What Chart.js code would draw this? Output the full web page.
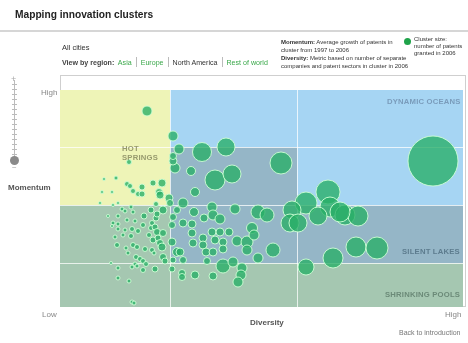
<!DOCTYPE html>
<html lang="en">
  <head>
    <meta charset="UTF-8" />
    <title>Mapping innovation clusters</title>
    <script src="https://cdn.jsdelivr.net/npm/chart.js@4.4.1/dist/chart.umd.min.js"></script>
    <style>
      body { margin: 0; background: #fff; font-family: "Liberation Sans", Arial, sans-serif; }
      .wrap { position: relative; width: 468px; height: 343px; overflow: hidden; }
      .wrap canvas { position: absolute; left: 0; top: 0; }
      .t { position: absolute; white-space: nowrap; line-height: 1; }
      .title { left: 15px; top: 10px; font-size: 10.2px; font-weight: bold; color: #222; }
      .rule { position: absolute; left: 0; top: 30px; width: 468px; height: 2px; background: #d6d6d6; }
      .green { color: #3aa84a; }
      .nav { font-size: 7.1px; color: #333; }
      .nav b { color: #444; }
      .sep { display: inline-block; width: 1px; height: 10px; background: #bbb; vertical-align: -2px; margin: 0 4px; }
      .note { font-size: 6px; color: #333; line-height: 8px; }
      .axl { font-size: 8px; color: #888; }
      .axt { font-size: 8px; color: #555; font-weight: bold; }
      .zone { font-size: 7.7px; font-weight: bold; letter-spacing: 0.2px; }
      .slider { position: absolute; left: 14px; top: 80px; width: 1px; height: 80px; background: #bbb; }
      .tick { position: absolute; left: 12px; width: 5px; height: 1px; background: #bbb; }
    </style>
  </head>
  <body>
    <div class="wrap" id="wrap">
      <canvas id="chart" width="468" height="343"></canvas>

      <div class="t title">Mapping innovation clusters</div>
      <div class="rule"></div>

      <div class="t nav green" style="left: 62px; top: 44px; font-size: 7.5px">All cities</div>
      <div class="t nav" style="left: 62px; top: 57px">
        <b>View by region:</b>&nbsp; <span class="green">Asia</span><span class="sep"></span><span class="green">Europe</span><span class="sep"></span>North America<span class="sep"></span><span class="green">Rest of world</span>
      </div>

      <div class="t note" style="left: 281px; top: 38px">
        <b>Momentum:</b> Average growth of patents in<br />cluster from 1997 to 2006
      </div>
      <div class="t note" style="left: 281px; top: 54px">
        <b>Diversity:</b> Metric based on number of separate<br />companies and patent sectors in cluster in 2006
      </div>
      <div style="position: absolute; left: 404px; top: 38px; width: 7px; height: 7px; border-radius: 50%; background: #1fa34a"></div>
      <div class="t note" style="left: 414px; top: 36px; line-height: 7px">Cluster size:<br />number of patents<br />granted in 2006</div>

      <div class="t" style="left: 11px; top: 75px; font-size: 9px; color: #aaa">+</div>
      <div class="slider"></div>
      <div id="ticks"></div>
      <div style="position: absolute; left: 10px; top: 156px; width: 9px; height: 9px; border-radius: 50%; background: #8a8a8a"></div>
      <div class="t" style="left: 12px; top: 164px; font-size: 8px; color: #aaa">&minus;</div>

      <div class="t axl" style="left: 41px; top: 89px">High</div>
      <div class="t axl" style="left: 42px; top: 311px">Low</div>
      <div class="t axl" style="left: 445px; top: 311px">High</div>
      <div class="t axt" style="left: 8px; top: 184px">Momentum</div>
      <div class="t axt" style="left: 250px; top: 319px">Diversity</div>
      <div class="t" style="left: 399px; top: 329px; font-size: 7px; color: #777">Back to introduction</div>

      <div class="t zone" style="left: 122px; top: 144px; color: #979a6e; line-height: 9px">HOT<br />SPRINGS</div>
      <div class="t zone" style="left: 387px; top: 98px; color: #7a9cbb">DYNAMIC OCEANS</div>
      <div class="t zone" style="left: 402px; top: 248px; color: #5d7c8e">SILENT LAKES</div>
      <div class="t zone" style="left: 385px; top: 291px; color: #6b8a78">SHRINKING POOLS</div>
    </div>

    <script>
      // zoom slider ticks
      var ticksBox = document.getElementById("ticks");
      for (var i = 0; i < 15; i++) {
        var tk = document.createElement("div");
        tk.className = "tick";
        tk.style.top = 84 + i * 5 + "px";
        ticksBox.appendChild(tk);
      }

      // cluster data (diversity / momentum in chart units, size = bubble radius)
      const diversity = [
        373, 87, 113, 119, 142, 166, 221, 155, 172, 115, 113, 113, 131, 135,
        69, 102, 93, 44, 56, 67, 70, 73, 82, 78, 82, 42, 52, 99, 100, 109,
        40, 58, 53, 96, 110, 123, 152, 153, 134, 117, 144, 160, 175, 198,
        207, 123, 132, 112, 113, 132, 143, 152, 160, 169, 155, 163, 177, 187,
        192, 194, 213, 187, 198, 117, 133, 143, 146, 153, 163, 147, 113, 123,
        163, 173, 182, 181, 178, 153, 135, 122, 122, 268, 246, 232, 230, 238,
        270, 258, 285, 298, 280, 296, 317, 273, 246, 62, 65, 71, 73, 48, 58,
        67, 75, 84, 92, 96, 97, 103, 91, 53, 58, 52, 58, 65, 72, 78, 83, 91,
        95, 97, 103, 55, 63, 71, 89, 93, 98, 100, 102, 57, 66, 73, 77, 85, 92,
        94, 68, 76, 80, 83, 86, 75, 72, 77, 51, 58, 83, 95, 103, 105, 58, 69,
        72, 74, 112, 120, 112
      ];
      const momentum = [
        146, 196, 171, 158, 155, 160, 144, 127, 133, 139, 146, 151, 136, 115,
        145, 124, 124, 128, 129, 123, 121, 116, 120, 113, 113, 115, 115, 115,
        112, 109, 104, 104, 102, 103, 104, 104, 100, 92, 95, 97, 89, 88, 98,
        95, 92, 84, 83, 82, 90, 74, 69, 75, 75, 75, 67, 65, 66, 65, 79, 72,
        57, 57, 49, 55, 64, 62, 55, 55, 58, 46, 47, 47, 41, 45, 39, 32, 25,
        31, 32, 34, 30, 115, 104, 97, 84, 84, 100, 91, 92, 91, 95, 60, 59, 49,
        40, 98, 96, 100, 95, 91, 91, 87, 86, 91, 84, 89, 93, 97, 97, 84, 83,
        81, 78, 77, 78, 76, 82, 79, 80, 75, 74, 70, 72, 71, 72, 67, 69, 64,
        60, 62, 59, 62, 60, 58, 57, 54, 54, 50, 48, 46, 43, 43, 40, 41, 44,
        39, 37, 38, 50, 46, 29, 26, 5, 4, 65, 55, 38
      ];
      const clusterSize = [
        25, 5, 5, 5, 9.5, 9, 11, 10, 9, 5, 4, 3.5, 4.5, 4.5, 2.5, 4, 3, 1.5,
        2, 2.5, 2.5, 2.5, 3, 2.5, 3, 1.5, 1.5, 3.5, 4, 4, 1.5, 1.5, 1.5, 2.5,
        3.5, 5, 5, 5, 4.5, 3.5, 4, 5, 5, 7, 7, 4, 4, 3.5, 3.5, 4, 4, 4, 4, 4,
        4, 4, 5, 6, 5.5, 5, 7, 5, 5, 4.5, 4, 4, 4, 4, 4, 3.5, 3, 3.5, 7, 5, 5,
        5, 5, 4, 4, 3.5, 3.5, 12, 11, 9, 9, 9, 10, 9, 10, 10, 10, 10, 11, 10,
        8, 2, 2, 2, 2, 1.5, 2, 2, 2, 3, 2.5, 3, 3, 4, 3, 2, 2, 1.5, 2, 2, 2.5,
        2.5, 2.5, 2.5, 3, 3.5, 3.5, 2, 2, 2.5, 2.5, 3, 3, 3.5, 4, 2.5, 2, 2.5,
        2.5, 2.5, 2.5, 2, 2, 2.5, 2.5, 2.5, 2.5, 2, 2, 2, 1.5, 2, 2.5, 3, 3.5,
        3, 2, 2, 2, 2, 4, 4, 3
      ];

      // zone boundaries on the two axes
      const diversityMax = 403;
      const momentumMax = 217;
      const diversityCuts = [110, 237];
      const momentumCuts = [44, 102, 160];

      const points = diversity.map((d, i) => ({
        x: d,
        y: momentum[i],
        r: clusterSize[i],
      }));

      const zonesPlugin = {
        id: "zones",
        beforeDatasetsDraw(chart) {
          const ctx = chart.ctx;
          const xs = chart.scales.x;
          const ys = chart.scales.y;
          const X = (v) => xs.getPixelForValue(v);
          const Y = (v) => ys.getPixelForValue(v);
          const box = (x0, y0, x1, y1, color) => {
            ctx.fillStyle = color;
            ctx.fillRect(X(x0), Y(y1), X(x1) - X(x0), Y(y0) - Y(y1));
          };
          const a = chart.chartArea;
          ctx.save();
          // frame
          ctx.strokeStyle = "#cfcfcf";
          ctx.lineWidth = 1;
          ctx.strokeRect(a.left + 0.5, a.top - 14.5, a.right - a.left + 2, a.bottom - a.top + 14);
          // shrinking pools
          box(0, 0, diversityMax, momentumMax, "#a5c7b1");
          // hot springs
          box(0, momentumCuts[1], diversityCuts[0], momentumMax, "#eef4b7");
          // dynamic oceans
          box(diversityCuts[0], momentumCuts[1], diversityMax, momentumMax, "#a6d5f3");
          // silent lakes
          box(diversityCuts[0], momentumCuts[0], diversityMax, momentumCuts[1], "#95b6c7");
          box(diversityCuts[0], momentumCuts[1], diversityCuts[1], momentumCuts[2], "#95b6c7");
          // grid lines
          ctx.strokeStyle = "rgba(255,255,255,0.75)";
          ctx.beginPath();
          momentumCuts.forEach((m) => {
            const py = Math.round(Y(m)) + 0.5;
            ctx.moveTo(a.left, py);
            ctx.lineTo(a.right, py);
          });
          diversityCuts.forEach((d) => {
            const px = Math.round(X(d)) + 0.5;
            ctx.moveTo(px, a.top);
            ctx.lineTo(px, a.bottom);
          });
          ctx.stroke();
          ctx.restore();
        },
      };

      new Chart("chart", {
        type: "bubble",
        data: {
          datasets: [
            {
              label: "Clusters",
              data: points,
              backgroundColor: "rgba(40,174,102,0.78)",
              borderColor: "rgba(205,255,212,0.9)",
              borderWidth: 1,
            },
          ],
        },
        options: {
          responsive: false,
          animation: false,
          devicePixelRatio: 1,
          layout: {
            autoPadding: false,
            padding: { left: 60, right: 5, top: 90, bottom: 36 },
          },
          plugins: { legend: { display: false }, tooltip: { enabled: false } },
          scales: {
            x: { type: "linear", min: 0, max: diversityMax, display: false },
            y: { type: "linear", min: 0, max: momentumMax, display: false },
          },
        },
        plugins: [zonesPlugin],
      });
    </script>
  </body>
</html>
